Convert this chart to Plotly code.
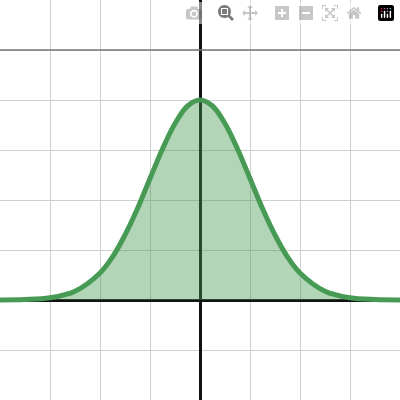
import plotly.graph_objects as go

x_vals = [-4, -3.5, -3, -2.5, -2, -1.75, -1.5, -1.25, -1, -0.75, -0.5, -0.25, 0,
          0.25, 0.5, 0.75, 1, 1.25, 1.5, 1.75, 2, 2.5, 3, 3.5, 4]
y_vals = [0.0014, 0.009, 0.044, 0.175, 0.54, 0.86, 1.3, 1.83, 2.43, 3.02, 3.53, 3.88, 4.0,
          3.88, 3.53, 3.02, 2.43, 1.83, 1.3, 0.86, 0.54, 0.175, 0.044, 0.009, 0.0014]
ref_line = 5

fig = go.Figure()
fig.add_trace(go.Scatter(x=x_vals, y=y_vals, mode="lines", line=dict(color="#479a53", width=5, shape="spline", smoothing=1),
                         fill="tozeroy", fillcolor="rgba(71,154,83,0.42)"))
fig.add_trace(go.Scatter(x=[-4, 4], y=[ref_line, ref_line], mode="lines", line=dict(color="#777", width=1.3)))
axis = dict(showgrid=True, gridcolor="#cfcfcf", gridwidth=1, dtick=1, zeroline=True, zerolinecolor="#111",
            zerolinewidth=2.5, showticklabels=False, ticks="", showline=False)
fig.update_layout(width=400, height=400, margin=dict(l=0, r=0, t=0, b=0), showlegend=False,
                  plot_bgcolor="white", paper_bgcolor="white",
                  xaxis=dict(range=[-4, 4], **axis), yaxis=dict(range=[-2, 6], **axis))
fig.write_html("out.html", post_script="document.body.style.margin='0';document.body.style.overflow='hidden';")
